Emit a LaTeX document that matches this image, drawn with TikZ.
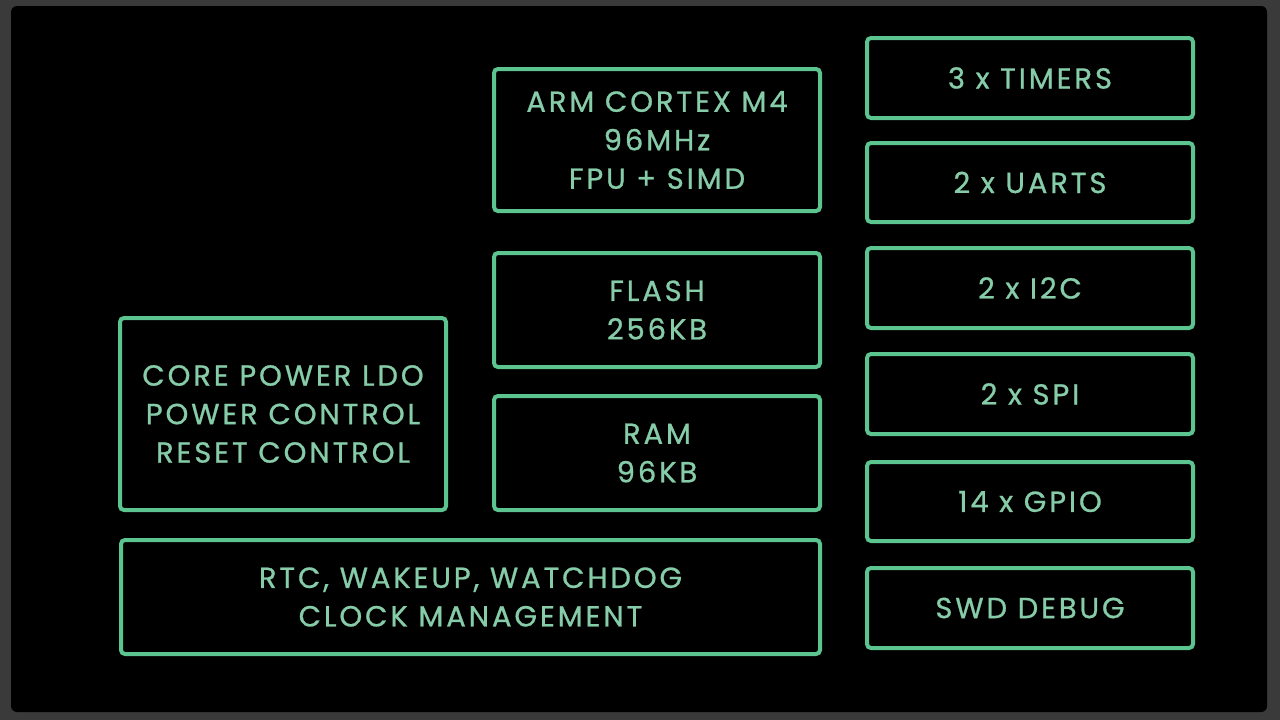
\documentclass[tikz,border=0pt]{standalone}
\usepackage{fontspec}
\setmainfont{Poppins}[LetterSpace=10,FakeBold=0.8]
\definecolor{boxg}{HTML}{5CC48F}
\definecolor{txtg}{HTML}{86CCA8}
\definecolor{frame}{HTML}{3A3A3A}
\begin{document}
\begin{tikzpicture}[x=1pt,y=-1pt,
  blk/.style={draw=boxg,line width=4pt,rounded corners=4pt,text=txtg,align=center,
    font=\fontsize{29}{38.5}\selectfont,inner sep=0pt}]
\fill[frame] (0,0) rectangle (1280,720);
\fill[black,rounded corners=6pt] (11,6) rectangle (1267,712);
\useasboundingbox (0,0) rectangle (1280,720);
\newcommand\blkat[6]{\node[blk,minimum width=#3-#1,minimum height=#4-#2] (#5) at ({(#1+#3)/2},{(#2+#4)/2}) {#6};}
\blkat{494}{69}{820}{211}{arm}{ARM CORTEX M4\\96MHz\\FPU + SIMD}
\blkat{494}{253}{820}{367}{flash}{FLASH\\256KB}
\blkat{494}{396}{820}{510}{ram}{RAM\\96KB}
\blkat{120}{318}{446}{510}{core}{CORE POWER LDO\\POWER CONTROL\\RESET CONTROL}
\blkat{121}{540}{820}{654}{rtc}{RTC, WAKEUP, WATCHDOG\\CLOCK MANAGEMENT}
\blkat{867}{38}{1193}{118}{tim}{3 x TIMERS}
\blkat{867}{143}{1193}{222}{uart}{2 x UARTS}
\blkat{867}{248}{1193}{328}{i2c}{2 x I2C}
\blkat{867}{354}{1193}{434}{spi}{2 x SPI}
\blkat{867}{462}{1193}{541}{gpio}{14 x GPIO}
\blkat{867}{568}{1193}{648}{swd}{SWD DEBUG}
\end{tikzpicture}
\end{document}
